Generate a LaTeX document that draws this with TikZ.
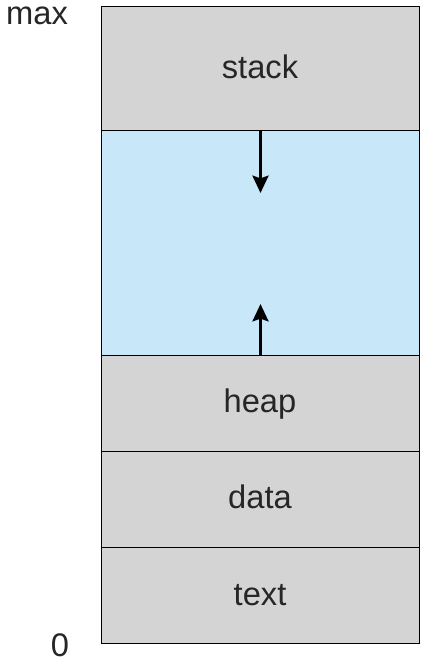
\documentclass[tikz,border=0pt]{standalone}
\usepackage{fontspec}
\setmainfont{Liberation Sans}
\usetikzlibrary{arrows.meta}
\definecolor{seggray}{HTML}{D4D4D4}
\definecolor{segblue}{HTML}{C8E8FA}
\tikzset{
  seg/.style={draw=black, line width=1.1pt, minimum width=318*0.75pt, inner sep=0pt, anchor=north west},
  lbl/.style={font=\fontsize{24.5}{28}\selectfont, text=black!85},
  growarrow/.style={line width=2.1pt, -{Stealth[width=12pt,length=13pt,inset=2pt]}},
}
\begin{document}
\begin{tikzpicture}[x=0.75pt,y=-0.75pt]
\useasboundingbox (0,0) rectangle (428,667);
\node[seg, fill=seggray, minimum height=124*0.75pt] (stack) at (101,6) {};
\node[seg, fill=segblue, minimum height=225*0.75pt] (free) at (101,130) {};
\node[seg, fill=seggray, minimum height=96*0.75pt] (heap) at (101,355) {};
\node[seg, fill=seggray, minimum height=96*0.75pt] (data) at (101,451) {};
\node[seg, fill=seggray, minimum height=96*0.75pt] (text) at (101,547) {};
\node[lbl] (stacklbl) at (260,67) {stack};
\node[lbl] (heaplbl) at (260,404) {heap};
\node[lbl] (datalbl) at (260,497) {data};
\node[lbl] (textlbl) at (260,595) {text};
\node[lbl, anchor=base] (maxlbl) at (37,25) {max};
\node[lbl, anchor=base] (zerolbl) at (60,656) {0};
\coordinate (downend) at (260.5,193);
\coordinate (upend) at (260.5,304);
\draw[growarrow] (stack.south -| downend) -- (downend);
\draw[growarrow] (heap.north -| upend) -- (upend);
\end{tikzpicture}
\end{document}
